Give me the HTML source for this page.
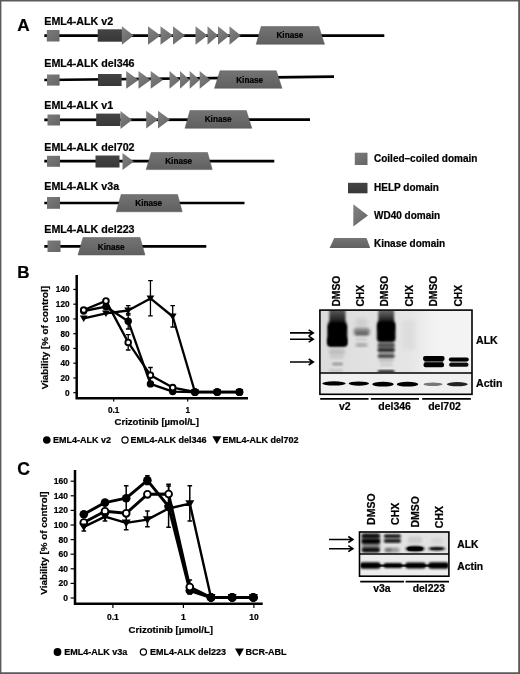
<!DOCTYPE html>
<html><head><meta charset="utf-8"><title>Figure</title>
<style>
html,body{margin:0;padding:0;background:#fff;}
svg{display:block;}
text{font-family:"Liberation Sans",Arial,sans-serif;font-weight:bold;fill:#000;stroke:#000;stroke-width:0.22px;}
</style></head><body>
<svg width="520" height="674" viewBox="0 0 520 674">
<defs>
<linearGradient id="gC" x1="0" y1="0" x2="1" y2="1"><stop offset="0" stop-color="#7a7a7a"/><stop offset="1" stop-color="#666"/></linearGradient>
<linearGradient id="gH" x1="0" y1="0" x2="0" y2="1"><stop offset="0" stop-color="#444"/><stop offset="1" stop-color="#383838"/></linearGradient>
<linearGradient id="gT" x1="0" y1="0" x2="0.6" y2="1"><stop offset="0" stop-color="#858585"/><stop offset="1" stop-color="#666"/></linearGradient>
<linearGradient id="gK" x1="0" y1="0" x2="0" y2="1"><stop offset="0" stop-color="#747474"/><stop offset="1" stop-color="#606060"/></linearGradient>
<filter id="b1" x="-30%" y="-30%" width="160%" height="160%"><feGaussianBlur stdDeviation="1"/></filter>
<filter id="b15" x="-30%" y="-30%" width="160%" height="160%"><feGaussianBlur stdDeviation="1.5"/></filter>
<filter id="b2" x="-30%" y="-30%" width="160%" height="160%"><feGaussianBlur stdDeviation="2.2"/></filter>
<filter id="b07" x="-30%" y="-30%" width="160%" height="160%"><feGaussianBlur stdDeviation="0.7"/></filter>
<clipPath id="cB1"><rect x="320.7" y="310.9" width="150.5" height="61.4"/></clipPath>
<clipPath id="cB2"><rect x="320.7" y="373.7" width="150.5" height="19.9"/></clipPath>
<clipPath id="cC1"><rect x="360.3" y="532.8" width="87.8" height="20.5"/></clipPath>
<clipPath id="cC2"><rect x="360.3" y="554.7" width="87.8" height="20.7"/></clipPath>
</defs>
<rect x="0" y="0" width="520" height="674" fill="#fff"/>

<text x="17.3" y="30.6" font-size="17.2" text-anchor="start" >A</text>
<text x="44.3" y="25.0" font-size="10.7" text-anchor="start" >EML4-ALK v2</text>
<line x1="44.3" y1="35.5" x2="384.3" y2="35.5" stroke="#000" stroke-width="2.75"/>
<rect x="46.8" y="30" width="12.70" height="11.50" fill="url(#gC)"/>
<rect x="97.7" y="29.3" width="24.30" height="12.40" fill="url(#gH)"/>
<polygon points="121.9,26.2 133.6,35.5 121.9,44.8" fill="url(#gT)"/>
<polygon points="148,26.2 160.5,35.5 148,44.8" fill="url(#gT)"/>
<polygon points="160.5,26.2 173,35.5 160.5,44.8" fill="url(#gT)"/>
<polygon points="173,26.2 185,35.5 173,44.8" fill="url(#gT)"/>
<polygon points="195.5,26.2 207.5,35.5 195.5,44.8" fill="url(#gT)"/>
<polygon points="207.5,26.2 218,35.5 207.5,44.8" fill="url(#gT)"/>
<polygon points="218,26.2 229.5,35.5 218,44.8" fill="url(#gT)"/>
<polygon points="229.5,26.2 240.8,35.5 229.5,44.8" fill="url(#gT)"/>
<polygon points="256.2,44.3 261.2,26.5 318.8,26.5 324.5,44.3" fill="url(#gK)" stroke="#585858" stroke-width="0.5"/>
<text x="289.88" y="38.20" font-size="8.2" text-anchor="middle" fill="#111" stroke-width="0.2">Kinase</text>
<text x="44.3" y="67.3" font-size="10.7" text-anchor="start" >EML4-ALK del346</text>
<line x1="44.3" y1="80" x2="334" y2="76.7" stroke="#000" stroke-width="2.75"/>
<rect x="47" y="74.5" width="12.60" height="11.10" fill="url(#gC)"/>
<rect x="98" y="74" width="23.60" height="12.00" fill="url(#gH)"/>
<polygon points="126.2,71 138.5,79.9 126.2,88.8" fill="url(#gT)"/>
<polygon points="138.5,71 150.7,79.9 138.5,88.8" fill="url(#gT)"/>
<polygon points="150.7,71 163,79.9 150.7,88.8" fill="url(#gT)"/>
<polygon points="169.5,71 180,79.9 169.5,88.8" fill="url(#gT)"/>
<polygon points="180,71 189.7,79.9 180,88.8" fill="url(#gT)"/>
<polygon points="189.7,71 199.7,79.9 189.7,88.8" fill="url(#gT)"/>
<polygon points="199.7,71 210.5,79.9 199.7,88.8" fill="url(#gT)"/>
<polygon points="214.5,88.3 220,70.8 276.3,70.8 282,88.3" fill="url(#gK)" stroke="#585858" stroke-width="0.5"/>
<text x="249.62" y="82.70" font-size="8.2" text-anchor="middle" fill="#111" stroke-width="0.2">Kinase</text>
<text x="44.3" y="109.3" font-size="10.7" text-anchor="start" >EML4-ALK v1</text>
<line x1="44.3" y1="119.8" x2="310" y2="119.6" stroke="#000" stroke-width="2.7"/>
<rect x="47.5" y="114.5" width="12.50" height="11.00" fill="url(#gC)"/>
<rect x="96.2" y="113.6" width="24.30" height="12.40" fill="url(#gH)"/>
<polygon points="120.5,110.9 132,119.9 120.5,128.9" fill="url(#gT)"/>
<polygon points="146.2,110.8 158,119.6 146.2,128.4" fill="url(#gT)"/>
<polygon points="158,110.8 170,119.6 158,128.4" fill="url(#gT)"/>
<polygon points="185,128.3 190,110.5 246.3,110.5 251.8,128.3" fill="url(#gK)" stroke="#585858" stroke-width="0.5"/>
<text x="218.12" y="122.40" font-size="8.2" text-anchor="middle" fill="#111" stroke-width="0.2">Kinase</text>
<text x="44.3" y="150.6" font-size="10.7" text-anchor="start" >EML4-ALK del702</text>
<line x1="44.3" y1="161.2" x2="274.3" y2="161.2" stroke="#000" stroke-width="2.7"/>
<rect x="47" y="155.8" width="13.00" height="11.00" fill="url(#gC)"/>
<rect x="95.5" y="155.5" width="24.00" height="12.00" fill="url(#gH)"/>
<polygon points="122.5,153 133.8,161.5 122.5,170" fill="url(#gT)"/>
<polygon points="146.2,169.6 151.2,152.5 207.5,152.5 212.2,169.6" fill="url(#gK)" stroke="#585858" stroke-width="0.5"/>
<text x="178.62" y="163.90" font-size="8.2" text-anchor="middle" fill="#111" stroke-width="0.2">Kinase</text>
<text x="44.3" y="190.1" font-size="10.7" text-anchor="start" >EML4-ALK v3a</text>
<line x1="44.3" y1="203" x2="244.5" y2="203" stroke="#000" stroke-width="2.7"/>
<rect x="47" y="197" width="13.00" height="11.80" fill="url(#gC)"/>
<polygon points="116.2,211.8 121.2,194.5 177.5,194.5 182.2,211.8" fill="url(#gK)" stroke="#585858" stroke-width="0.5"/>
<text x="148.75" y="205.90" font-size="8.2" text-anchor="middle" fill="#111" stroke-width="0.2">Kinase</text>
<text x="44.3" y="233.1" font-size="10.7" text-anchor="start" >EML4-ALK del223</text>
<line x1="44.3" y1="246.3" x2="206.3" y2="246.3" stroke="#000" stroke-width="2.7"/>
<rect x="47.5" y="240.5" width="13.00" height="11.50" fill="url(#gC)"/>
<polygon points="78,255 83,237.5 140,237.5 145,255" fill="url(#gK)" stroke="#585858" stroke-width="0.5"/>
<text x="111.25" y="249.50" font-size="8.2" text-anchor="middle" fill="#111" stroke-width="0.2">Kinase</text>
<rect x="354.8" y="152.7" width="12.70" height="12.30" fill="url(#gC)"/>
<text x="374" y="162.4" font-size="10" text-anchor="start" >Coiled–coiled domain</text>
<rect x="348" y="182.8" width="19.50" height="10.50" fill="url(#gH)"/>
<text x="374" y="191.4" font-size="10" text-anchor="start" >HELP domain</text>
<polygon points="353.3,204.2 368,215.39999999999998 353.3,226.6" fill="url(#gT)"/>
<text x="374" y="219.2" font-size="10" text-anchor="start" >WD40 domain</text>
<polygon points="329.6,248 334.2,238 366.5,238 370.2,248" fill="url(#gK)"/>
<text x="374" y="246.6" font-size="10" text-anchor="start" >Kinase domain</text>
<text x="17.3" y="277.5" font-size="17" text-anchor="start" >B</text>
<path d="M76.7,275 V398.2 H248" fill="none" stroke="#000" stroke-width="2.5" stroke-linejoin="miter" stroke-linecap="butt"/>
<line x1="73.3" y1="392.70" x2="76.7" y2="392.70" stroke="#000" stroke-width="1.2"/>
<text x="69.5" y="395.65" font-size="8.2" text-anchor="end">0</text>
<line x1="73.3" y1="377.95" x2="76.7" y2="377.95" stroke="#000" stroke-width="1.2"/>
<text x="69.5" y="380.90" font-size="8.2" text-anchor="end">20</text>
<line x1="73.3" y1="363.20" x2="76.7" y2="363.20" stroke="#000" stroke-width="1.2"/>
<text x="69.5" y="366.15" font-size="8.2" text-anchor="end">40</text>
<line x1="73.3" y1="348.45" x2="76.7" y2="348.45" stroke="#000" stroke-width="1.2"/>
<text x="69.5" y="351.40" font-size="8.2" text-anchor="end">60</text>
<line x1="73.3" y1="333.70" x2="76.7" y2="333.70" stroke="#000" stroke-width="1.2"/>
<text x="69.5" y="336.65" font-size="8.2" text-anchor="end">80</text>
<line x1="73.3" y1="318.95" x2="76.7" y2="318.95" stroke="#000" stroke-width="1.2"/>
<text x="69.5" y="321.90" font-size="8.2" text-anchor="end">100</text>
<line x1="73.3" y1="304.20" x2="76.7" y2="304.20" stroke="#000" stroke-width="1.2"/>
<text x="69.5" y="307.15" font-size="8.2" text-anchor="end">120</text>
<line x1="73.3" y1="289.45" x2="76.7" y2="289.45" stroke="#000" stroke-width="1.2"/>
<text x="69.5" y="292.40" font-size="8.2" text-anchor="end">140</text>
<line x1="113.70" y1="398.2" x2="113.70" y2="401.59999999999997" stroke="#000" stroke-width="1.2"/>
<text x="113.70" y="413.1" font-size="8.2" text-anchor="middle">0.1</text>
<line x1="187.70" y1="398.2" x2="187.70" y2="401.59999999999997" stroke="#000" stroke-width="1.2"/>
<text x="187.70" y="413.1" font-size="8.2" text-anchor="middle">1</text>
<text x="114.5" y="425.1" font-size="9.6">Crizotinib [µmol/L]</text>
<text transform="translate(47.6,337.6) rotate(-90)" font-size="9.8" text-anchor="middle">Viability [% of control]</text>
<path d="M128.20,313.50 V329.00 M125.90,313.50 h4.6 M125.90,329.00 h4.6" stroke="#000" stroke-width="1.3" fill="none"/>
<path d="M128.20,334.70 V350.00 M125.90,334.70 h4.6 M125.90,350.00 h4.6" stroke="#000" stroke-width="1.3" fill="none"/>
<path d="M150.45,367.50 V383.00 M148.15,367.50 h4.6 M148.15,383.00 h4.6" stroke="#000" stroke-width="1.3" fill="none"/>
<path d="M128.20,305.70 V315.00 M125.90,305.70 h4.6 M125.90,315.00 h4.6" stroke="#000" stroke-width="1.3" fill="none"/>
<path d="M150.45,280.60 V315.80 M148.15,280.60 h4.6 M148.15,315.80 h4.6" stroke="#000" stroke-width="1.3" fill="none"/>
<path d="M172.70,305.70 V327.00 M170.40,305.70 h4.6 M170.40,327.00 h4.6" stroke="#000" stroke-width="1.3" fill="none"/>
<path d="M83.70,311.00 L105.95,306.70 L128.20,321.20 L150.45,383.90 L172.70,391.60 L194.95,392.20 L217.20,392.20 L239.45,392.20" fill="none" stroke="#000" stroke-width="2.3" stroke-linejoin="round"/>
<circle cx="83.70" cy="311.00" r="3.7" fill="#000"/>
<circle cx="105.95" cy="306.70" r="3.7" fill="#000"/>
<circle cx="128.20" cy="321.20" r="3.7" fill="#000"/>
<circle cx="150.45" cy="383.90" r="3.7" fill="#000"/>
<circle cx="172.70" cy="391.60" r="3.7" fill="#000"/>
<circle cx="194.95" cy="392.20" r="3.7" fill="#000"/>
<circle cx="217.20" cy="392.20" r="3.7" fill="#000"/>
<circle cx="239.45" cy="392.20" r="3.7" fill="#000"/>
<path d="M83.70,310.00 L105.95,300.90 L128.20,342.40 L150.45,375.20 L172.70,387.60 L194.95,392.00 L217.20,392.00 L239.45,392.00" fill="none" stroke="#000" stroke-width="2.3" stroke-linejoin="round"/>
<circle cx="83.70" cy="310.00" r="2.8000000000000003" fill="#fff" stroke="#000" stroke-width="1.9"/>
<circle cx="105.95" cy="300.90" r="2.8000000000000003" fill="#fff" stroke="#000" stroke-width="1.9"/>
<circle cx="128.20" cy="342.40" r="2.8000000000000003" fill="#fff" stroke="#000" stroke-width="1.9"/>
<circle cx="150.45" cy="375.20" r="2.8000000000000003" fill="#fff" stroke="#000" stroke-width="1.9"/>
<circle cx="172.70" cy="387.60" r="2.8000000000000003" fill="#fff" stroke="#000" stroke-width="1.9"/>
<circle cx="194.95" cy="392.00" r="2.8000000000000003" fill="#fff" stroke="#000" stroke-width="1.9"/>
<circle cx="217.20" cy="392.00" r="2.8000000000000003" fill="#fff" stroke="#000" stroke-width="1.9"/>
<circle cx="239.45" cy="392.00" r="2.8000000000000003" fill="#fff" stroke="#000" stroke-width="1.9"/>
<path d="M83.70,318.30 L105.95,313.40 L128.20,310.50 L150.45,298.40 L172.70,316.50 L194.95,392.00 L217.20,392.00 L239.45,392.00" fill="none" stroke="#000" stroke-width="2.3" stroke-linejoin="round"/>
<polygon points="79.80,315.38 87.60,315.38 83.70,322.00" fill="#000"/>
<polygon points="102.05,310.47 109.85,310.47 105.95,317.10" fill="#000"/>
<polygon points="124.30,307.57 132.10,307.57 128.20,314.20" fill="#000"/>
<polygon points="146.55,295.47 154.35,295.47 150.45,302.10" fill="#000"/>
<polygon points="168.80,313.57 176.60,313.57 172.70,320.20" fill="#000"/>
<polygon points="191.05,389.07 198.85,389.07 194.95,395.70" fill="#000"/>
<polygon points="213.30,389.07 221.10,389.07 217.20,395.70" fill="#000"/>
<polygon points="235.55,389.07 243.35,389.07 239.45,395.70" fill="#000"/>
<circle cx="194.95" cy="392.1" r="3.9" fill="#000"/>
<circle cx="217.20" cy="392.1" r="3.9" fill="#000"/>
<circle cx="239.45" cy="392.1" r="3.9" fill="#000"/>
<circle cx="46.8" cy="440" r="3.8" fill="#000"/>
<text x="53" y="442.9" font-size="9" text-anchor="start" >EML4-ALK v2</text>
<circle cx="125" cy="440" r="3.1" fill="#fff" stroke="#000" stroke-width="1.2"/>
<text x="130.5" y="442.9" font-size="9" text-anchor="start" >EML4-ALK del346</text>
<polygon points="212.3,436.2 221.4,436.2 216.85,444" fill="#000"/>
<text x="222.5" y="442.9" font-size="9" text-anchor="start" >EML4-ALK del702</text>
<text x="17.3" y="475.3" font-size="17.6" text-anchor="start" >C</text>
<path d="M75,470 V603.7 H262.7" fill="none" stroke="#000" stroke-width="2.5" stroke-linejoin="miter" stroke-linecap="butt"/>
<line x1="70.6" y1="598.00" x2="75" y2="598.00" stroke="#000" stroke-width="1.2"/>
<text x="68" y="601.06" font-size="8.5" text-anchor="end">0</text>
<line x1="70.6" y1="583.40" x2="75" y2="583.40" stroke="#000" stroke-width="1.2"/>
<text x="68" y="586.46" font-size="8.5" text-anchor="end">20</text>
<line x1="70.6" y1="568.80" x2="75" y2="568.80" stroke="#000" stroke-width="1.2"/>
<text x="68" y="571.86" font-size="8.5" text-anchor="end">40</text>
<line x1="70.6" y1="554.20" x2="75" y2="554.20" stroke="#000" stroke-width="1.2"/>
<text x="68" y="557.26" font-size="8.5" text-anchor="end">60</text>
<line x1="70.6" y1="539.60" x2="75" y2="539.60" stroke="#000" stroke-width="1.2"/>
<text x="68" y="542.66" font-size="8.5" text-anchor="end">80</text>
<line x1="70.6" y1="525.00" x2="75" y2="525.00" stroke="#000" stroke-width="1.2"/>
<text x="68" y="528.06" font-size="8.5" text-anchor="end">100</text>
<line x1="70.6" y1="510.40" x2="75" y2="510.40" stroke="#000" stroke-width="1.2"/>
<text x="68" y="513.46" font-size="8.5" text-anchor="end">120</text>
<line x1="70.6" y1="495.80" x2="75" y2="495.80" stroke="#000" stroke-width="1.2"/>
<text x="68" y="498.86" font-size="8.5" text-anchor="end">140</text>
<line x1="70.6" y1="481.20" x2="75" y2="481.20" stroke="#000" stroke-width="1.2"/>
<text x="68" y="484.26" font-size="8.5" text-anchor="end">160</text>
<line x1="112.90" y1="603.7" x2="112.90" y2="608.1000000000001" stroke="#000" stroke-width="1.2"/>
<text x="112.90" y="619.6" font-size="8.5" text-anchor="middle">0.1</text>
<line x1="183.40" y1="603.7" x2="183.40" y2="608.1000000000001" stroke="#000" stroke-width="1.2"/>
<text x="183.40" y="619.6" font-size="8.5" text-anchor="middle">1</text>
<line x1="253.90" y1="603.7" x2="253.90" y2="608.1000000000001" stroke="#000" stroke-width="1.2"/>
<text x="253.90" y="619.6" font-size="8.5" text-anchor="middle">10</text>
<text x="128.6" y="633.2" font-size="9.6">Crizotinib [µmol/L]</text>
<text transform="translate(46.5,543) rotate(-90)" font-size="9.8" text-anchor="middle">Viability [% of control]</text>
<path d="M126.20,485.70 V510.70 M123.90,485.70 h4.6 M123.90,510.70 h4.6" stroke="#000" stroke-width="1.5" fill="none"/>
<path d="M147.40,475.80 V484.50 M145.10,475.80 h4.6 M145.10,484.50 h4.6" stroke="#000" stroke-width="1.5" fill="none"/>
<path d="M168.60,486.00 V527.20 M166.30,486.00 h4.6 M166.30,527.20 h4.6" stroke="#000" stroke-width="1.5" fill="none"/>
<path d="M168.60,484.30 V503.00 M166.30,484.30 h4.6 M166.30,503.00 h4.6" stroke="#000" stroke-width="1.5" fill="none"/>
<path d="M189.80,580.00 V594.00 M187.50,580.00 h4.6 M187.50,594.00 h4.6" stroke="#000" stroke-width="1.5" fill="none"/>
<path d="M83.80,522.00 V531.00 M81.50,522.00 h4.6 M81.50,531.00 h4.6" stroke="#000" stroke-width="1.5" fill="none"/>
<path d="M105.00,512.00 V521.00 M102.70,512.00 h4.6 M102.70,521.00 h4.6" stroke="#000" stroke-width="1.5" fill="none"/>
<path d="M126.20,516.00 V529.70 M123.90,516.00 h4.6 M123.90,529.70 h4.6" stroke="#000" stroke-width="1.5" fill="none"/>
<path d="M147.40,511.00 V526.80 M145.10,511.00 h4.6 M145.10,526.80 h4.6" stroke="#000" stroke-width="1.5" fill="none"/>
<path d="M189.80,485.70 V521.00 M187.50,485.70 h4.6 M187.50,521.00 h4.6" stroke="#000" stroke-width="1.5" fill="none"/>
<path d="M83.80,514.20 L105.00,502.60 L126.20,498.20 L147.40,480.30 L168.60,506.50 L189.80,590.50 L211.00,597.50 L232.20,597.50 L253.40,597.50" fill="none" stroke="#000" stroke-width="2.9" stroke-linejoin="round"/>
<circle cx="83.80" cy="514.20" r="4.3" fill="#000"/>
<circle cx="105.00" cy="502.60" r="4.3" fill="#000"/>
<circle cx="126.20" cy="498.20" r="4.3" fill="#000"/>
<circle cx="147.40" cy="480.30" r="4.3" fill="#000"/>
<circle cx="168.60" cy="506.50" r="4.3" fill="#000"/>
<circle cx="189.80" cy="590.50" r="4.3" fill="#000"/>
<circle cx="211.00" cy="597.50" r="4.3" fill="#000"/>
<circle cx="232.20" cy="597.50" r="4.3" fill="#000"/>
<circle cx="253.40" cy="597.50" r="4.3" fill="#000"/>
<path d="M83.80,522.50 L105.00,511.30 L126.20,513.30 L147.40,494.30 L168.60,494.00 L189.80,587.00 L211.00,597.50 L232.20,597.50 L253.40,597.50" fill="none" stroke="#000" stroke-width="2.9" stroke-linejoin="round"/>
<circle cx="83.80" cy="522.50" r="3.4" fill="#fff" stroke="#000" stroke-width="1.9"/>
<circle cx="105.00" cy="511.30" r="3.4" fill="#fff" stroke="#000" stroke-width="1.9"/>
<circle cx="126.20" cy="513.30" r="3.4" fill="#fff" stroke="#000" stroke-width="1.9"/>
<circle cx="147.40" cy="494.30" r="3.4" fill="#fff" stroke="#000" stroke-width="1.9"/>
<circle cx="168.60" cy="494.00" r="3.4" fill="#fff" stroke="#000" stroke-width="1.9"/>
<circle cx="189.80" cy="587.00" r="3.4" fill="#fff" stroke="#000" stroke-width="1.9"/>
<circle cx="211.00" cy="597.50" r="3.4" fill="#fff" stroke="#000" stroke-width="1.9"/>
<circle cx="232.20" cy="597.50" r="3.4" fill="#fff" stroke="#000" stroke-width="1.9"/>
<circle cx="253.40" cy="597.50" r="3.4" fill="#fff" stroke="#000" stroke-width="1.9"/>
<path d="M83.80,526.80 L105.00,516.70 L126.20,522.90 L147.40,519.60 L168.60,508.50 L189.80,503.60 L211.00,597.50 L232.20,597.50 L253.40,597.50" fill="none" stroke="#000" stroke-width="2.4" stroke-linejoin="round"/>
<polygon points="79.30,523.42 88.30,523.42 83.80,531.07" fill="#000"/>
<polygon points="100.50,513.33 109.50,513.33 105.00,520.98" fill="#000"/>
<polygon points="121.70,519.52 130.70,519.52 126.20,527.17" fill="#000"/>
<polygon points="142.90,516.23 151.90,516.23 147.40,523.88" fill="#000"/>
<polygon points="164.10,505.12 173.10,505.12 168.60,512.77" fill="#000"/>
<polygon points="185.30,500.23 194.30,500.23 189.80,507.88" fill="#000"/>
<polygon points="206.50,594.12 215.50,594.12 211.00,601.77" fill="#000"/>
<polygon points="227.70,594.12 236.70,594.12 232.20,601.77" fill="#000"/>
<polygon points="248.90,594.12 257.90,594.12 253.40,601.77" fill="#000"/>
<circle cx="211.00" cy="597.5" r="4.4" fill="#000"/>
<circle cx="232.20" cy="597.5" r="4.4" fill="#000"/>
<circle cx="253.40" cy="597.5" r="4.4" fill="#000"/>
<circle cx="57.5" cy="652" r="3.9" fill="#000"/>
<text x="64.2" y="655" font-size="9" text-anchor="start" >EML4-ALK v3a</text>
<circle cx="143.4" cy="652" r="3.1" fill="#fff" stroke="#000" stroke-width="1.2"/>
<text x="150" y="655" font-size="9" text-anchor="start" >EML4-ALK del223</text>
<polygon points="235,648.6 243.9,648.6 239.45,656.4" fill="#000"/>
<text x="245.5" y="655" font-size="9" text-anchor="start" >BCR-ABL</text>
<text transform="translate(339.61,306.6) rotate(-90)" font-size="10.3">DMSO</text>
<text transform="translate(363.91,306.6) rotate(-90)" font-size="10.3">CHX</text>
<text transform="translate(388.31,306.6) rotate(-90)" font-size="10.3">DMSO</text>
<text transform="translate(412.61,306.6) rotate(-90)" font-size="10.3">CHX</text>
<text transform="translate(437.11,306.6) rotate(-90)" font-size="10.3">DMSO</text>
<text transform="translate(461.61,306.6) rotate(-90)" font-size="10.3">CHX</text>
<rect x="319.9" y="310" width="152" height="84.3" fill="#ececec"/>
<linearGradient id="bgB" x1="0" x2="1" y1="0" y2="0"><stop offset="0" stop-color="#dcdcdc"/><stop offset="0.6" stop-color="#e6e6e6"/><stop offset="0.75" stop-color="#f2f2f2"/><stop offset="1" stop-color="#f4f4f4"/></linearGradient>
<rect x="319.9" y="310" width="152" height="63" fill="url(#bgB)"/>
<rect x="319.9" y="373" width="152" height="21.3" fill="#f0f0f0"/>
<g clip-path="url(#cB1)">
<linearGradient id="sm1" x1="0" y1="0" x2="0" y2="1"><stop offset="0" stop-color="#000" stop-opacity="0.5"/><stop offset="0.6" stop-color="#000" stop-opacity="0.85"/><stop offset="1" stop-color="#000"/></linearGradient>
<linearGradient id="sm3" x1="0" y1="0" x2="0" y2="1"><stop offset="0" stop-color="#000" stop-opacity="0.4"/><stop offset="0.6" stop-color="#000" stop-opacity="0.85"/><stop offset="1" stop-color="#000"/></linearGradient>
<rect x="329.3" y="306" width="16.2" height="24" fill="url(#sm1)" filter="url(#b1)"/>
<rect x="328.20" y="322.00" width="18.2" height="24" rx="2" fill="#000" opacity="1" filter="url(#b15)"/>
<rect x="328.00" y="324.50" width="18.6" height="21" rx="2" fill="#000" opacity="1" filter="url(#b1)"/>
<rect x="327.60" y="337.00" width="19.4" height="9" rx="2" fill="#000" opacity="1" filter="url(#b1)"/>
<rect x="329.00" y="348.50" width="16" height="7" rx="2" fill="#000" opacity="0.13" filter="url(#b15)"/>
<rect x="329.50" y="356.00" width="14" height="3" rx="1.5" fill="#000" opacity="0.08" filter="url(#b1)"/>
<rect x="332.00" y="362.50" width="11" height="3" rx="1.5" fill="#000" opacity="0.3" filter="url(#b1)"/>
<rect x="329.00" y="369.25" width="14" height="2.5" rx="1.25" fill="#000" opacity="0.12" filter="url(#b1)"/>
<rect x="353.80" y="328.30" width="16" height="7" rx="2" fill="#000" opacity="0.42" filter="url(#b15)"/>
<rect x="355.30" y="332.50" width="13" height="3" rx="1.5" fill="#000" opacity="0.3" filter="url(#b1)"/>
<rect x="355.50" y="343.25" width="12" height="3.5" rx="1.75" fill="#000" opacity="0.28" filter="url(#b15)"/>
<rect x="355.50" y="318.00" width="12" height="10" rx="2" fill="#000" opacity="0.08" filter="url(#b2)"/>
<rect x="355.50" y="338.00" width="12" height="3" rx="1.5" fill="#000" opacity="0.08" filter="url(#b1)"/>
<rect x="378.3" y="306" width="15.8" height="24" fill="url(#sm3)" filter="url(#b1)"/>
<rect x="377.60" y="321.50" width="17.2" height="20" rx="2" fill="#000" opacity="1" filter="url(#b15)"/>
<rect x="377.70" y="322.75" width="17" height="18.5" rx="2" fill="#000" opacity="1" filter="url(#b1)"/>
<rect x="377.70" y="342.60" width="17" height="6" rx="2" fill="#000" opacity="0.62" filter="url(#b1)"/>
<rect x="377.40" y="348.30" width="17.6" height="3.4" rx="1.7" fill="#000" opacity="0.85" filter="url(#b1)"/>
<rect x="377.70" y="354.60" width="17" height="3.4" rx="1.7" fill="#000" opacity="0.7" filter="url(#b1)"/>
<rect x="378.20" y="351.70" width="16" height="3" rx="1.5" fill="#000" opacity="0.35" filter="url(#b1)"/>
<rect x="378.70" y="359.00" width="15" height="3" rx="1.5" fill="#000" opacity="0.15" filter="url(#b1)"/>
<rect x="379.70" y="363.30" width="13" height="3" rx="1.5" fill="#000" opacity="0.1" filter="url(#b1)"/>
<rect x="377.70" y="370.00" width="17" height="3.2" rx="1.6" fill="#000" opacity="0.8" filter="url(#b1)"/>
<rect x="402.00" y="320.00" width="14" height="30" rx="2" fill="#000" opacity="0.03" filter="url(#b2)"/>
<rect x="423.05" y="356.10" width="21.5" height="5" rx="2" fill="#000" opacity="1" filter="url(#b07)"/>
<rect x="423.55" y="362.40" width="20.5" height="4.8" rx="2" fill="#000" opacity="1" filter="url(#b07)"/>
<rect x="424.30" y="360.20" width="19" height="3" rx="1.5" fill="#000" opacity="0.6" filter="url(#b07)"/>
<rect x="448.80" y="357.50" width="20" height="4" rx="2.0" fill="#000" opacity="1" filter="url(#b07)"/>
<rect x="449.05" y="362.80" width="19.5" height="4" rx="2.0" fill="#000" opacity="0.95" filter="url(#b07)"/>
<rect x="450.30" y="361.20" width="17" height="2" rx="1.0" fill="#000" opacity="0.25" filter="url(#b07)"/>
</g>
<g clip-path="url(#cB2)">
<ellipse cx="334" cy="383.4" rx="11.75" ry="2.1" fill="#000" opacity="1" filter="url(#b07)"/>
<ellipse cx="358.8" cy="383.6" rx="10.25" ry="2.1" fill="#000" opacity="1" filter="url(#b07)"/>
<ellipse cx="383" cy="384.2" rx="10.75" ry="2.4" fill="#000" opacity="1" filter="url(#b07)"/>
<ellipse cx="407.5" cy="384.2" rx="10.75" ry="2.4" fill="#000" opacity="1" filter="url(#b07)"/>
<ellipse cx="433" cy="384.2" rx="9.5" ry="1.7" fill="#000" opacity="0.5" filter="url(#b07)"/>
<ellipse cx="457.3" cy="384.2" rx="10.5" ry="2.1" fill="#000" opacity="0.85" filter="url(#b07)"/>
</g>
<rect x="319.9" y="310.1" width="152.1" height="84.2" fill="none" stroke="#000" stroke-width="1.6"/>
<line x1="319.9" y1="373" x2="472" y2="373" stroke="#000" stroke-width="1.5"/>
<path d="M290,332.9 H313.3 M308.7,329.9 L313.3,332.9 L308.7,335.9" fill="none" stroke="#000" stroke-width="1.6" stroke-linejoin="miter"/>
<path d="M290,339.2 H313.3 M308.7,336.2 L313.3,339.2 L308.7,342.2" fill="none" stroke="#000" stroke-width="1.6" stroke-linejoin="miter"/>
<path d="M290,362 H313.3 M308.7,359 L313.3,362 L308.7,365" fill="none" stroke="#000" stroke-width="1.6" stroke-linejoin="miter"/>
<text x="476" y="344" font-size="10.6" text-anchor="start" >ALK</text>
<text x="476" y="386.8" font-size="10.6" text-anchor="start" >Actin</text>
<line x1="320.2" y1="398.8" x2="368.6" y2="398.8" stroke="#000" stroke-width="1.7"/>
<line x1="370.8" y1="398.8" x2="419" y2="398.8" stroke="#000" stroke-width="1.7"/>
<line x1="422.2" y1="398.8" x2="470.9" y2="398.8" stroke="#000" stroke-width="1.7"/>
<text x="344.8" y="409.9" font-size="10.5" text-anchor="middle" >v2</text>
<text x="394.6" y="409.9" font-size="10.5" text-anchor="middle" >del346</text>
<text x="444.5" y="409.9" font-size="10.5" text-anchor="middle" >del702</text>
<text transform="translate(374.68,524.9) rotate(-90)" font-size="10.5">DMSO</text>
<text transform="translate(398.78,524.9) rotate(-90)" font-size="10.5">CHX</text>
<text transform="translate(418.88,527.6) rotate(-90)" font-size="10.5">DMSO</text>
<text transform="translate(443.08,528.2) rotate(-90)" font-size="10.5">CHX</text>
<rect x="359" y="531.3" width="90" height="45.3" fill="#e2e2e2"/>
<g clip-path="url(#cC1)">
<rect x="361.80" y="532.50" width="18" height="17" rx="2" fill="#000" opacity="0.4" filter="url(#b15)"/>
<rect x="361.65" y="534.10" width="18.3" height="4.2" rx="2" fill="#000" opacity="0.9" filter="url(#b1)"/>
<rect x="361.50" y="538.70" width="18.6" height="5" rx="2" fill="#000" opacity="1" filter="url(#b1)"/>
<rect x="361.80" y="547.40" width="18" height="5.2" rx="2" fill="#000" opacity="0.92" filter="url(#b1)"/>
<rect x="384.40" y="535.00" width="16" height="8" rx="2" fill="#000" opacity="0.25" filter="url(#b15)"/>
<rect x="383.90" y="534.40" width="17" height="3.4" rx="1.7" fill="#000" opacity="0.92" filter="url(#b1)"/>
<rect x="383.90" y="539.20" width="17" height="3.4" rx="1.7" fill="#000" opacity="0.92" filter="url(#b1)"/>
<rect x="384.50" y="547.75" width="15" height="4.5" rx="2" fill="#000" opacity="0.35" filter="url(#b15)"/>
<rect x="385.00" y="548.25" width="7" height="3.5" rx="1.75" fill="#000" opacity="0.25" filter="url(#b1)"/>
<ellipse cx="415.1" cy="548.7" rx="9.75" ry="2.8" fill="#000" opacity="1" filter="url(#b1)"/>
<rect x="407.35" y="546.70" width="15.5" height="4" rx="2.0" fill="#000" opacity="1" filter="url(#b07)"/>
<rect x="408.00" y="536.50" width="14" height="7" rx="2" fill="#000" opacity="0.1" filter="url(#b15)"/>
<ellipse cx="436.8" cy="548.7" rx="8.75" ry="2.0" fill="#000" opacity="0.85" filter="url(#b1)"/>
<rect x="430.80" y="547.60" width="12" height="2.2" rx="1.1" fill="#000" opacity="0.5" filter="url(#b07)"/>
<rect x="431.00" y="538.00" width="12" height="6" rx="2" fill="#000" opacity="0.05" filter="url(#b15)"/>
</g>
<rect x="359" y="554" width="90" height="22.6" fill="#ededed"/>
<g clip-path="url(#cC2)">
<rect x="359.80" y="562.20" width="21" height="6.6" rx="3.3" fill="#000" opacity="1" filter="url(#b1)"/>
<rect x="383.50" y="563.00" width="19" height="5" rx="2.5" fill="#000" opacity="1" filter="url(#b1)"/>
<rect x="405.10" y="562.50" width="21" height="6" rx="3.0" fill="#000" opacity="1" filter="url(#b1)"/>
<rect x="428.10" y="562.30" width="21" height="6.4" rx="3.2" fill="#000" opacity="1" filter="url(#b1)"/>
<rect x="362.00" y="564.40" width="84" height="2.4" rx="1.2" fill="#000" opacity="0.85" filter="url(#b07)"/>
</g>
<rect x="359.5" y="532" width="89.4" height="44.2" fill="none" stroke="#000" stroke-width="1.6"/>
<line x1="359.5" y1="554" x2="448.9" y2="554" stroke="#000" stroke-width="1.5"/>
<path d="M329,539.5 H352.9 M348.29999999999995,536.5 L352.9,539.5 L348.29999999999995,542.5" fill="none" stroke="#000" stroke-width="1.6" stroke-linejoin="miter"/>
<path d="M329,548.7 H352.9 M348.29999999999995,545.7 L352.9,548.7 L348.29999999999995,551.7" fill="none" stroke="#000" stroke-width="1.6" stroke-linejoin="miter"/>
<text x="457.3" y="548.1" font-size="10.3" text-anchor="start" >ALK</text>
<text x="457.3" y="570.4" font-size="10.3" text-anchor="start" >Actin</text>
<line x1="360.2" y1="581.6" x2="404" y2="581.6" stroke="#000" stroke-width="1.9"/>
<line x1="405.6" y1="581.6" x2="449" y2="581.6" stroke="#000" stroke-width="1.9"/>
<text x="381.9" y="591.5" font-size="10.4" text-anchor="middle" >v3a</text>
<text x="428.9" y="591.5" font-size="10.4" text-anchor="middle" >del223</text>
<path d="M0,0 H520 V674 H0 Z M1.4,1.4 V672.2 H518.2 V1.4 Z" fill="#5a5a5a" fill-rule="evenodd"/>
</svg></body></html>
